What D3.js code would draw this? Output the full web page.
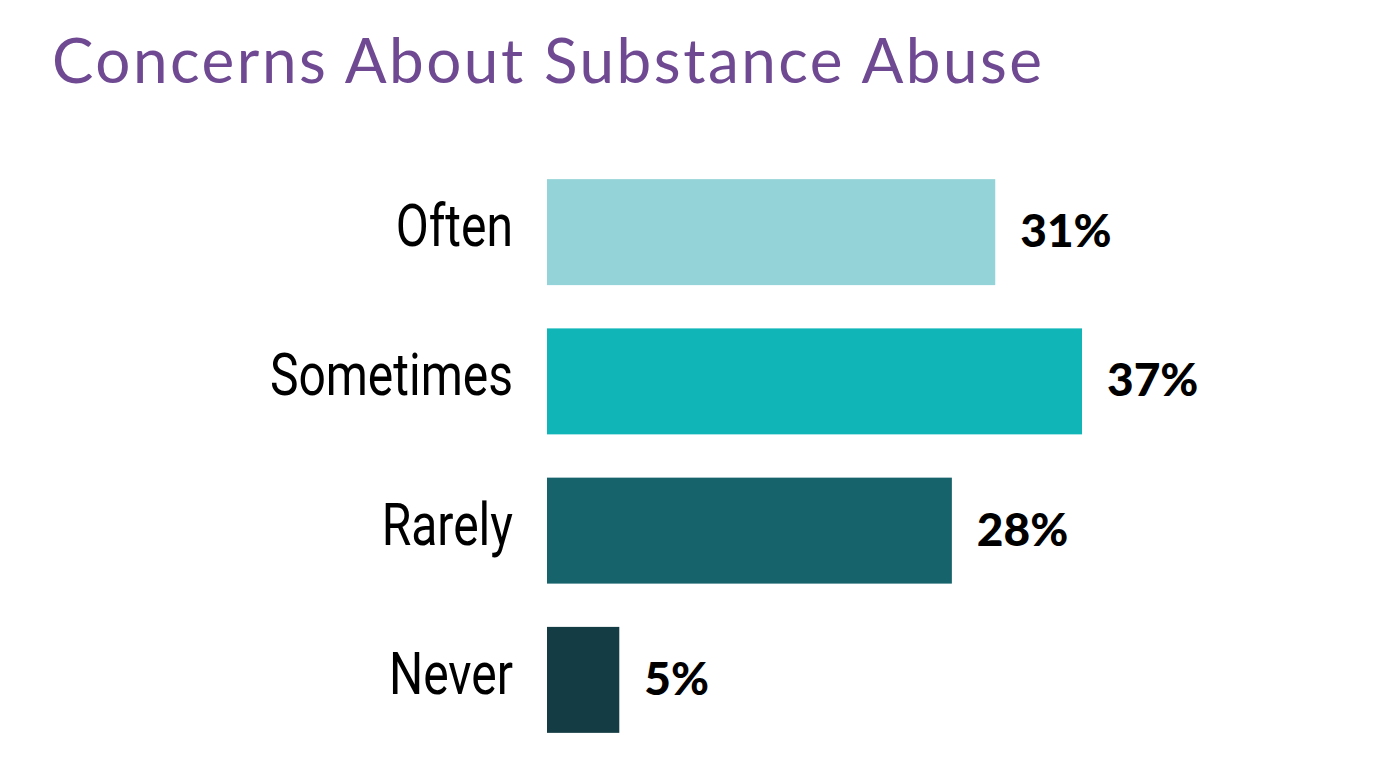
<!DOCTYPE html>
<html>
<head>
<meta charset="utf-8">
<script src="https://cdn.jsdelivr.net/npm/d3@7"></script>
<style>
  body { margin: 0; background: #fff; }
</style>
</head>
<body>
<svg id="chart" width="1380" height="774"></svg>
<script>
const categories = ['Often', 'Sometimes', 'Rarely', 'Never'];
const values = [31, 37, 28, 5];
const colors = ['#94d3d8', '#0fb5b7', '#16636c', '#143c44'];

const svg = d3.select('#chart');

svg.append('text')
  .attr('x', 52)
  .attr('y', 83)
  .attr('fill', '#6f4a93')
  .style('font-family', 'Lato, sans-serif')
  .style('font-size', '62px')
  .style('letter-spacing', '2.5px')
  .text('Concerns About Substance Abuse');

const left = 547;
const x = d3.scaleLinear().domain([0, 37]).range([left, left + 535]);
const y = d3.scaleBand().domain(categories).range([179 - 21.5, 733 + 21.5]).paddingInner(0.29).paddingOuter(0.145);

const rows = svg.append('g')
  .selectAll('g.row')
  .data(categories)
  .enter()
  .append('g')
  .attr('class', 'row');

rows.append('rect')
  .attr('x', x(0))
  .attr('y', d => y(d))
  .attr('height', y.bandwidth())
  .attr('width', (d, i) => x(values[i]) - x(0))
  .attr('fill', (d, i) => colors[i]);

rows.append('text')
  .attr('text-anchor', 'end')
  .attr('transform', d => `translate(513, ${y(d) + y.bandwidth() / 2 + 14}) scale(0.8, 1)`)
  .style('font-family', 'Roboto, sans-serif')
  .style('font-size', '60px')
  .attr('fill', '#000')
  .text(d => d);

rows.append('text')
  .attr('x', (d, i) => x(values[i]) + 25)
  .attr('y', d => y(d) + y.bandwidth() / 2 + 15)
  .style('font-family', 'Lato, sans-serif')
  .style('font-weight', 900)
  .style('font-size', '46px')
  .attr('fill', '#000')
  .text((d, i) => values[i] + '%');
</script>
</body>
</html>
